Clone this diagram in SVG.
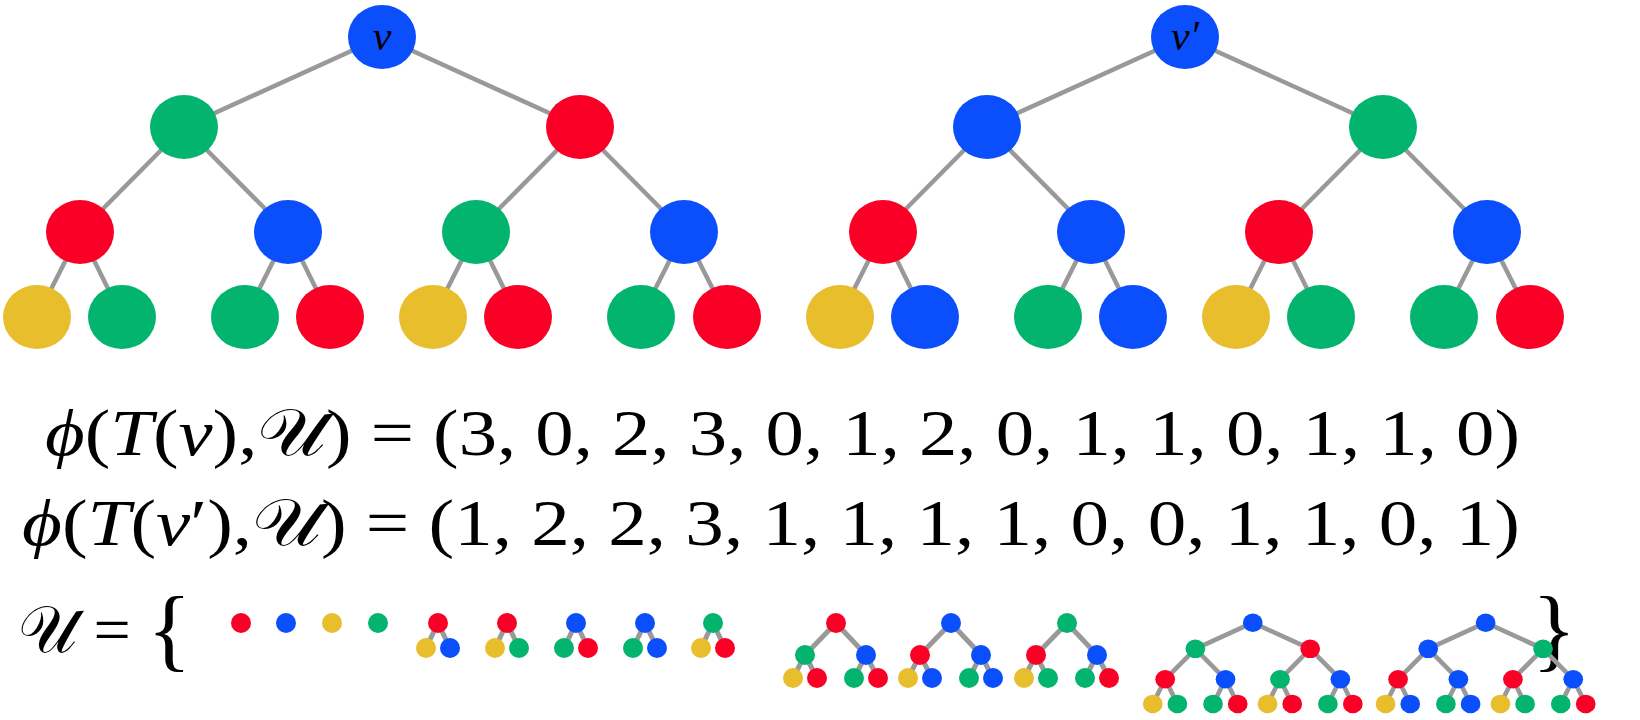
<svg xmlns="http://www.w3.org/2000/svg" xmlns:xlink="http://www.w3.org/1999/xlink" width="1640" height="720" viewBox="0 0 1640 720">
<style>
.b{fill:#0B4EFB}.g{fill:#03B46E}.r{fill:#FB0027}.y{fill:#E8BE2D}
.e{stroke:#999;stroke-width:var(--sw,4.5);fill:none}
.se{stroke:#999;stroke-width:5;fill:none}
.t{font-family:"Liberation Serif","DejaVu Serif",serif;font-size:66px;fill:#000}
.i{font-style:italic}
.lbl{font-size:42px}
.br{font-size:92px}
</style>
<defs>
<g id="treeL">
<g class="conn"><path class="e" d="M382,37L184,127M382,37L580,127M184,127L80,232M184,127L288,232M580,127L476,232M580,127L684,232M80,232L37,317M80,232L122,317M288,232L245,317M288,232L330,317M476,232L433,317M476,232L518,317M684,232L641,317M684,232L727,317"/></g>
<ellipse class="b" cx="382" cy="37" rx="34" ry="32"/>
<ellipse class="g" cx="184" cy="127" rx="34" ry="32"/><ellipse class="r" cx="580" cy="127" rx="34" ry="32"/>
<ellipse class="r" cx="80" cy="232" rx="34" ry="32"/><ellipse class="b" cx="288" cy="232" rx="34" ry="32"/><ellipse class="g" cx="476" cy="232" rx="34" ry="32"/><ellipse class="b" cx="684" cy="232" rx="34" ry="32"/>
<ellipse class="y" cx="37" cy="317" rx="34" ry="32"/><ellipse class="g" cx="122" cy="317" rx="34" ry="32"/><ellipse class="g" cx="245" cy="317" rx="34" ry="32"/><ellipse class="r" cx="330" cy="317" rx="34" ry="32"/><ellipse class="y" cx="433" cy="317" rx="34" ry="32"/><ellipse class="r" cx="518" cy="317" rx="34" ry="32"/><ellipse class="g" cx="641" cy="317" rx="34" ry="32"/><ellipse class="r" cx="727" cy="317" rx="34" ry="32"/>
</g>
<g id="treeR">
<g class="conn"><path class="e" d="M1185,37L987,127M1185,37L1383,127M987,127L883,232M987,127L1091,232M1383,127L1279,232M1383,127L1487,232M883,232L840,317M883,232L925,317M1091,232L1048,317M1091,232L1133,317M1279,232L1236,317M1279,232L1321,317M1487,232L1444,317M1487,232L1530,317"/></g>
<ellipse class="b" cx="1185" cy="37" rx="34" ry="32"/>
<ellipse class="b" cx="987" cy="127" rx="34" ry="32"/><ellipse class="g" cx="1383" cy="127" rx="34" ry="32"/>
<ellipse class="r" cx="883" cy="232" rx="34" ry="32"/><ellipse class="b" cx="1091" cy="232" rx="34" ry="32"/><ellipse class="r" cx="1279" cy="232" rx="34" ry="32"/><ellipse class="b" cx="1487" cy="232" rx="34" ry="32"/>
<ellipse class="y" cx="840" cy="317" rx="34" ry="32"/><ellipse class="b" cx="925" cy="317" rx="34" ry="32"/><ellipse class="g" cx="1048" cy="317" rx="34" ry="32"/><ellipse class="b" cx="1133" cy="317" rx="34" ry="32"/><ellipse class="y" cx="1236" cy="317" rx="34" ry="32"/><ellipse class="g" cx="1321" cy="317" rx="34" ry="32"/><ellipse class="g" cx="1444" cy="317" rx="34" ry="32"/><ellipse class="r" cx="1530" cy="317" rx="34" ry="32"/>
</g>
</defs>
<g id="tree-v"><use xlink:href="#treeL"/><text class="t i lbl" x="382" y="50" text-anchor="middle">v</text></g>
<g id="tree-v2"><use xlink:href="#treeR"/><text class="t i lbl" x="1185" y="50" text-anchor="middle">v′</text></g>
<g id="formulas">
<text class="t" x="45" y="455" textLength="1475" lengthAdjust="spacingAndGlyphs"><tspan class="i">ϕ</tspan>(<tspan class="i">T</tspan>(<tspan class="i">v</tspan>),𝒰) = (3, 0, 2, 3, 0, 1, 2, 0, 1, 1, 0, 1, 1, 0)</text>
<text class="t" x="22" y="545" textLength="1498" lengthAdjust="spacingAndGlyphs"><tspan class="i">ϕ</tspan>(<tspan class="i">T</tspan>(<tspan class="i">v</tspan>′),𝒰) = (1, 2, 2, 3, 1, 1, 1, 1, 0, 0, 1, 1, 0, 1)</text>
<text class="t" x="18" y="652">𝒰 = <tspan class="br" dy="8">{</tspan></text>
<text class="t br" x="1532" y="660">}</text>
</g>
<g id="set-U">
<circle class="r" cx="241" cy="623" r="10"/><circle class="b" cx="286" cy="623" r="10"/><circle class="y" cx="332" cy="623" r="10"/><circle class="g" cx="378" cy="623" r="10"/>
<g class="se"><path d="M438,623l-12,25M438,623l12,25M507,623l-12,25M507,623l12,25M576,623l-12,25M576,623l12,25M645,623l-12,25M645,623l12,25M713,623l-12,25M713,623l12,25"/></g>
<circle class="r" cx="438" cy="623" r="10"/><circle class="y" cx="426" cy="648" r="10"/><circle class="b" cx="450" cy="648" r="10"/>
<circle class="r" cx="507" cy="623" r="10"/><circle class="y" cx="495" cy="648" r="10"/><circle class="g" cx="519" cy="648" r="10"/>
<circle class="b" cx="576" cy="623" r="10"/><circle class="g" cx="564" cy="648" r="10"/><circle class="r" cx="588" cy="648" r="10"/>
<circle class="b" cx="645" cy="623" r="10"/><circle class="g" cx="633" cy="648" r="10"/><circle class="b" cx="657" cy="648" r="10"/>
<circle class="g" cx="713" cy="623" r="10"/><circle class="y" cx="701" cy="648" r="10"/><circle class="r" cx="725" cy="648" r="10"/>
<g class="se"><path d="M836,623l-31,32M836,623l30,32M805,655l-12,23M805,655l12,23M866,655l-12,23M866,655l12,23M951,623l-31,32M951,623l30,32M920,655l-12,23M920,655l12,23M981,655l-12,23M981,655l12,23M1067,623l-31,32M1067,623l30,32M1036,655l-12,23M1036,655l12,23M1097,655l-12,23M1097,655l12,23"/></g>
<circle class="r" cx="836" cy="623" r="10"/><circle class="g" cx="805" cy="655" r="10"/><circle class="b" cx="866" cy="655" r="10"/><circle class="y" cx="793" cy="678" r="10"/><circle class="r" cx="817" cy="678" r="10"/><circle class="g" cx="854" cy="678" r="10"/><circle class="r" cx="878" cy="678" r="10"/>
<circle class="b" cx="951" cy="623" r="10"/><circle class="r" cx="920" cy="655" r="10"/><circle class="b" cx="981" cy="655" r="10"/><circle class="y" cx="908" cy="678" r="10"/><circle class="b" cx="932" cy="678" r="10"/><circle class="g" cx="969" cy="678" r="10"/><circle class="b" cx="993" cy="678" r="10"/>
<circle class="g" cx="1067" cy="623" r="10"/><circle class="r" cx="1036" cy="655" r="10"/><circle class="b" cx="1097" cy="655" r="10"/><circle class="y" cx="1024" cy="678" r="10"/><circle class="g" cx="1048" cy="678" r="10"/><circle class="g" cx="1085" cy="678" r="10"/><circle class="r" cx="1109" cy="678" r="10"/>
<g transform="translate(1142,612) scale(0.29)" style="--sw:16"><use xlink:href="#treeL"/></g>
<g transform="translate(1142,612) scale(0.29)" style="--sw:16"><use xlink:href="#treeR"/></g>
</g>
</svg>
